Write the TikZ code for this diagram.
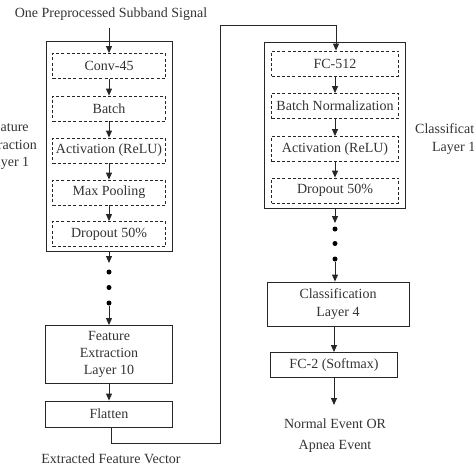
\documentclass[tikz,border=0pt]{standalone}
\usepackage{fontspec}
\setmainfont{Liberation Serif}
\usetikzlibrary{arrows.meta}
\begin{document}
\begin{tikzpicture}[x=1pt,y=-1pt,
  font=\fontsize{14}{17.3}\selectfont,
  every node/.style={text=black!80},
  ln/.style={line width=0.9pt, draw=black!85},
  arr/.style={ln, -{Triangle[length=7pt,width=6pt]}},
  outer/.style={draw=black!85, line width=0.9pt, rectangle, inner sep=0pt},
  dbox/.style={draw=black!85, line width=0.8pt, dash pattern=on 3pt off 2.2pt, rectangle, inner sep=0pt, minimum height=25pt},
  sbox/.style={draw=black!85, line width=0.9pt, rectangle, inner sep=0pt, align=center},
  dot/.style={circle, fill=black, inner sep=0pt, minimum size=5pt}]
\useasboundingbox (0,0) rectangle (474,474);
% left column
\node (title) at (111,14) {One Preprocessed Subband Signal};
\node[outer, minimum width=126pt, minimum height=210pt] (lbox) at (109,146) {};
\node[dbox, minimum width=113pt] (conv) at (109,66) {Conv-45};
\node[dbox, minimum width=113pt] (batch) at (109,108.5) {Batch};
\node[dbox, minimum width=113pt] (act) at (109,150.5) {Activation (ReLU)};
\node[dbox, minimum width=113pt] (pool) at (109,192.5) {Max Pooling};
\node[dbox, minimum width=113pt] (drop) at (109,234) {Dropout 50\%};
\node[anchor=east, align=center, inner sep=0pt] (lab1) at (37,146) {Feature\\Extraction\\Layer 1};
\coordinate (t0) at (109,28);
\draw[arr] (t0) -- (conv.north);
\draw[arr] (conv) -- (batch);
\draw[arr] (batch) -- (act);
\draw[arr] (act) -- (pool);
\draw[arr] (pool) -- (drop);
\coordinate (la) at (109,263);
\coordinate (lb) at (109,306);
\draw[arr] (lbox.south) -- (la);
\node[dot] (ld1) at (109,272) {};
\node[dot] (ld2) at (109,287.5) {};
\node[dot] (ld3) at (109,303) {};
\node[sbox, minimum width=127pt, minimum height=58pt] (fe10) at (109,354.5) {Feature\\Extraction\\Layer 10};
\draw[arr] (lb) -- (fe10.north);
\node[sbox, minimum width=127pt, minimum height=26pt] (flat) at (109,414) {Flatten};
\draw[arr] (fe10) -- (flat);
\node (efv) at (111,459) {Extracted Feature Vector};
% connector
\coordinate (c1) at (111,443);
\coordinate (c2) at (220,443);
\coordinate (c3) at (220,25);
\coordinate (c4) at (336,25);
% right column
\node[outer, minimum width=141pt, minimum height=166pt] (rbox) at (335,125) {};
\node[dbox, minimum width=127pt] (fc512) at (335,63.5) {FC-512};
\node[dbox, minimum width=127pt] (bn) at (335,106) {Batch Normalization};
\node[dbox, minimum width=127pt] (ract) at (335,149) {Activation (ReLU)};
\node[dbox, minimum width=127pt] (rdrop) at (335,190.5) {Dropout 50\%};
\draw[ln] (flat.south -| c1) -- (c1) -- (c2) -- (c3) -- (c4);
\draw[arr] (c4) -- (fc512.north -| c4);
\draw[arr] (fc512) -- (bn);
\draw[arr] (bn) -- (ract);
\draw[arr] (ract) -- (rdrop);
\node[anchor=west, align=center, inner sep=0pt] (lab2) at (415,139) {Classification\\Layer 1};
\coordinate (ra) at (335,223);
\coordinate (rb) at (335,262);
\draw[arr] (rbox.south) -- (ra);
\node[dot] (rd1) at (335,229) {};
\node[dot] (rd2) at (335,243.5) {};
\node[dot] (rd3) at (335,259) {};
\node[sbox, minimum width=142pt, minimum height=44pt] (cl4) at (338,304) {Classification\\Layer 4};
\draw[arr] (rb) -- (cl4.north -| rb);
\node[sbox, minimum width=127pt, minimum height=25pt] (fc2) at (334,365) {FC-2 (Softmax)};
\draw[arr] (cl4.south -| fc2.north) -- (fc2.north);
\coordinate (oa) at (334,405);
\node[align=center, font=\fontsize{14}{21}\selectfont] (out) at (335,436) {Normal Event OR\\Apnea Event};
\draw[arr] (fc2.south) -- (oa);
\end{tikzpicture}
\end{document}
